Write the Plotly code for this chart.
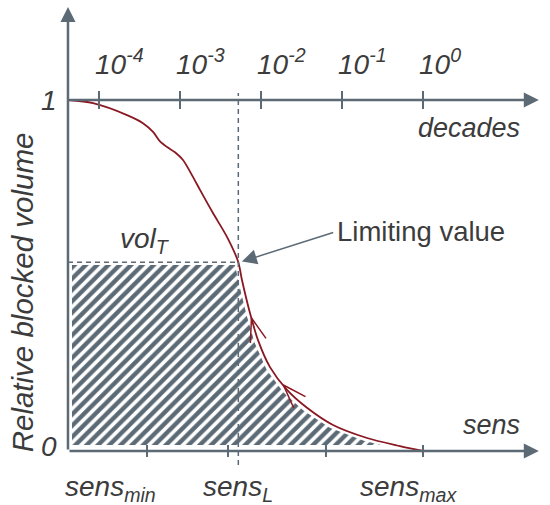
import numpy as np
import plotly.graph_objects as go

# schematic: relative blocked volume vs sensitivity (x in decades, log10)
curve_x = [-4.383, -4.074, -3.654, -3.457, -3.333, -3.247, -3.160, -3.062, -2.963,
           -2.840, -2.753, -2.593, -2.420, -2.280, -2.235, -2.136, -2.037, -1.889,
           -1.679, -1.432, -1.111, -0.691, -0.284, 0.0]
curve_y = [1.000, 0.991, 0.957, 0.934, 0.909, 0.882, 0.866, 0.851, 0.829,
           0.781, 0.744, 0.678, 0.610, 0.538, 0.487, 0.393, 0.316, 0.239,
           0.174, 0.123, 0.074, 0.037, 0.014, 0.0]

decades = [-4, -3, -2, -1, 0]
decade_labels = ["10<sup>-4</sup>", "10<sup>-3</sup>", "10<sup>-2</sup>",
                 "10<sup>-1</sup>", "10<sup>0</sup>"]
sens_ticks = [-3.407, -2.407, -1.198, 0.0]

x_origin = -4.383
sens_L = -2.28
vol_T = 0.538
arrow_y = [0.379, 0.188]   # where the small arrows sit on the curve

AX = "#5b6a75"
RED = "#8a1822"
TXT = "#3c3c3c"
FONT = "Liberation Sans, Arial, sans-serif"
PXX, PXY = 81.0, 351.0     # pixels per unit (x decade / y unit)

cx = np.array(curve_x)
cy = np.array(curve_y)

fig = go.Figure()

# hatched area under the curve, capped at vol_T
gap_x, gap_y, yb = 0.04, 0.008, 0.017
xl = x_origin + 4 / PXX
top = vol_T - 0.008
m = cx > sens_L
rx = cx[m] - gap_x
ry = cy[m] - gap_y
k = ry > yb
x_end = np.interp(yb, ry[::-1], rx[::-1])
poly_x = [xl, xl, sens_L - gap_x] + list(rx[k]) + [x_end, xl]
poly_y = [yb, top, top] + list(ry[k]) + [yb, yb]
fig.add_trace(go.Scatter(
    x=poly_x, y=poly_y, mode="lines", fill="toself",
    line=dict(width=0), fillcolor="rgba(0,0,0,0)",
    fillpattern=dict(shape="/", fgcolor=AX, fgopacity=1, bgcolor="white",
                     size=8, solidity=0.55),
    hoverinfo="skip", showlegend=False))

# main curve
fig.add_trace(go.Scatter(
    x=curve_x, y=curve_y, mode="lines",
    line=dict(color=RED, width=1.8, shape="spline", smoothing=0.8),
    hoverinfo="skip", showlegend=False))

# small open arrows along the curve
bx, by = [], []
for ya in arrow_y:
    xt = np.interp(ya, cy[::-1], cx[::-1])
    xb = np.interp(ya - 0.03, cy[::-1], cx[::-1])
    v = np.array([(xb - xt) * PXX, 0.03 * PXY])
    v = v / np.linalg.norm(v) * 25
    pts = []
    for ang in (-19, 19):
        a = np.radians(ang)
        rv = (v[0] * np.cos(a) - v[1] * np.sin(a), v[0] * np.sin(a) + v[1] * np.cos(a))
        pts.append((xt + rv[0] / PXX, ya - rv[1] / PXY))
    bx += [pts[0][0], xt, pts[1][0], None]
    by += [pts[0][1], ya, pts[1][1], None]
fig.add_trace(go.Scatter(x=bx, y=by, mode="lines", line=dict(color=RED, width=1.5),
                         hoverinfo="skip", showlegend=False))

shapes = []
# dashed guides
dash = dict(color=AX, width=1.5, dash="5px,4px")
shapes.append(dict(type="line", x0=sens_L, x1=sens_L, y0=-0.04, y1=1.02, line=dash))
shapes.append(dict(type="line", x0=x_origin, x1=sens_L, y0=vol_T, y1=vol_T, line=dash))
# ticks
for d in decades:
    shapes.append(dict(type="line", x0=d, x1=d, ysizemode="pixel", yanchor=1,
                       y0=-9, y1=9, line=dict(color=AX, width=2)))
for t in sens_ticks:
    shapes.append(dict(type="line", x0=t, x1=t, ysizemode="pixel", yanchor=0,
                       y0=-6, y1=6, line=dict(color=AX, width=2)))

ann = []
# axes with arrowheads
x_tip = 1.43
for (x0, y0, x1, y1) in [(x_origin, 0, x_origin, 1.265), (x_origin, 0, x_tip, 0),
                         (x_origin, 1, x_tip, 1)]:
    ann.append(dict(x=x1, y=y1, ax=x0, ay=y0, xref="x", yref="y", axref="x", ayref="y",
                    text="", showarrow=True, arrowhead=2, arrowsize=1.2,
                    arrowwidth=2.5, arrowcolor=AX))
# limiting value arrow
ann.append(dict(x=sens_L + 0.02, y=vol_T, ax=-1.09, ay=0.624, xref="x", yref="y",
                axref="x", ayref="y", text="", showarrow=True, arrowhead=2,
                arrowsize=2, arrowwidth=1.5, arrowcolor=AX, standoff=2))


def label(text, x, y, xanchor="center", xshift=0, yshift=0, size=26, angle=0):
    ann.append(dict(x=x, y=y, xref="x", yref="y", text=text, showarrow=False,
                    xanchor=xanchor, yanchor="middle", xshift=xshift, yshift=yshift,
                    textangle=angle, font=dict(family=FONT, size=size, color=TXT)))


for d, lab in zip(decades, decade_labels):
    label("<i>" + lab + "</i>", d, 1, xanchor="left", xshift=-6, yshift=38, size=28)
label("<i>decades</i>", 1.222, 1, xanchor="right", yshift=-28, size=27)
label("<i>sens</i>", 1.222, 0, xanchor="right", yshift=26, size=27)
label("<i>1</i>", x_origin, 1, xanchor="right", xshift=-9, size=28)
label("<i>0</i>", x_origin, 0, xanchor="right", xshift=-9, yshift=5, size=28)
label("<i>vol<sub>T</sub></i>", -3.765, vol_T, xanchor="left", yshift=22, size=28)
label("Limiting value", -1.09, 0.624, xanchor="left", size=27.5)
label("<i>sens<sub>min</sub></i>", -3.864, 0, yshift=-37, size=28)
label("<i>sens<sub>L</sub></i>", sens_L, 0, yshift=-37, size=28)
label("<i>sens<sub>max</sub></i>", -0.173, 0, yshift=-37, size=28)
label("<i>Relative blocked volume</i>", -4.951, 0.452, size=29.5, angle=-90)

fig.update_layout(
    width=550, height=505, margin=dict(l=0, r=0, t=0, b=0),
    paper_bgcolor="white", plot_bgcolor="white",
    xaxis=dict(range=[-423 / PXX, 127 / PXX], visible=False, fixedrange=True),
    yaxis=dict(range=[-54 / PXY, 451 / PXY], visible=False, fixedrange=True),
    shapes=shapes, annotations=ann, showlegend=False)

fig.write_html("out.html", config={"displayModeBar": False},
               post_script="document.body.style.margin='0';")
